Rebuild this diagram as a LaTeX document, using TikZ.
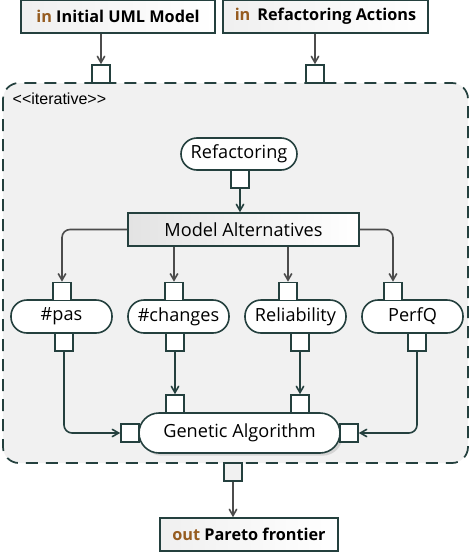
\documentclass[tikz,border=0pt]{standalone}
\usepackage{fontspec}
\setmainfont{Open Sans}
\newfontfamily\arialfont{Liberation Sans}
\usetikzlibrary{arrows,positioning,shadows}
\definecolor{edge}{RGB}{36,64,62}
\definecolor{kw}{RGB}{150,92,32}
\definecolor{regionbg}{RGB}{241,241,241}
\tikzset{
    portbox/.style={draw=edge,fill=white,minimum size=13.5pt,inner sep=0pt,line width=1.2pt},
    action/.style={draw=edge,fill=white,rounded corners=12pt,minimum width=75.75pt,minimum height=24.75pt,inner sep=0pt,line width=1.2pt,font=\fontsize{13.6}{15}\selectfont},
    param/.style={draw=edge,left color=gray!12,right color=white,minimum height=24.75pt,inner sep=0pt,line width=1.2pt,font=\bfseries\fontsize{12.2}{14}\selectfont},
    flow/.style={->,>=angle 60,draw=edge,line width=1.2pt,rounded corners=6pt}
}
\begin{document}
\begin{tikzpicture}[x=0.75pt,y=-0.75pt]
        \useasboundingbox (0,0) rectangle (474,557);
        \clip (0,0) rectangle (474,557);
        % iterative region
        \draw[edge,fill=regionbg,dash pattern=on 9pt off 6pt,line width=1.3pt,rounded corners=12pt] (3,83) rectangle (468,463);
        \node[anchor=west,font=\arialfont\fontsize{12}{14}\selectfont] (iter) at (8,99) {<<iterative>>};

        \node[param,minimum width=145.5pt] (in1) at (118,16.5) {\textcolor{kw}{in} Initial UML Model};
        \node[param,minimum width=153.75pt] (in2) at (325.5,16.5) {\textcolor{kw}{in}\, Refactoring Actions};
        \node[portbox] (p1) at (101,74) {};
        \node[portbox] (p2) at (315,74) {};
        \draw[flow,draw=black!70] (p1.north |- in1.south) -- (p1.north);
        \draw[flow,draw=black!70] (p2.north |- in2.south) -- (p2.north);

        \node[action,minimum width=87pt,minimum height=24pt] (refac) at (239,154) {Refactoring};
        \node[portbox] (refac-o) at (240,179) {};
        \node[draw=edge,left color=gray!22,right color=white,minimum width=173.25pt,minimum height=24.75pt,inner sep=0pt,line width=1.2pt,font=\fontsize{13.6}{15}\selectfont] (alt) at (243.5,229.5) {Model Alternatives};
        \draw[flow] (refac-o.south) -- (refac-o.south |- alt.north);

        \node[action] (pas) at (61.5,316.5) {\#pas};
        \node[action] (chg) at (178.5,316.5) {\#changes};
        \node[action] (rel) at (295.5,316.5) {Reliability};
        \node[action] (perf) at (412.5,316.5) {PerfQ};
        \node[portbox] (pas-i) at (62,291.5) {};
        \node[portbox] (chg-i) at (174,291.5) {};
        \node[portbox] (rel-i) at (288,291.5) {};
        \node[portbox] (perf-i) at (393,291.5) {};
        \node[portbox] (pas-o) at (64,342) {};
        \node[portbox] (chg-o) at (175,342) {};
        \node[portbox] (rel-o) at (300,342) {};
        \node[portbox] (perf-o) at (417,342) {};
        \draw[flow,draw=black!70] (alt.west) -| (pas-i.north);
        \draw[flow,draw=black!70] (chg-i.north |- alt.south) -- (chg-i.north);
        \draw[flow,draw=black!70] (rel-i.north |- alt.south) -- (rel-i.north);
        \draw[flow,draw=black!70] (alt.east) -| (perf-i.north);

        \node[action,minimum width=150.75pt,minimum height=30pt,rounded corners=15pt,drop shadow={shadow xshift=2pt,shadow yshift=-2pt,fill=gray!55}] (ga) at (239.5,433) {Genetic Algorithm};
        \node[portbox] (ga-w) at (130,433) {};
        \node[portbox] (ga-e) at (349,433) {};
        \node[portbox] (ga-n1) at (175,404) {};
        \node[portbox] (ga-n2) at (300,404) {};
        \draw[flow] (pas-o.south) |- (ga-w.west);
        \draw[flow] (chg-o.south) -- (ga-n1.north);
        \draw[flow] (rel-o.south) -- (ga-n2.north);
        \draw[flow] (perf-o.south) |- (ga-e.east);

        \node[portbox,fill=regionbg] (p3) at (233,472) {};
        \node[param,minimum width=133.5pt] (out) at (249,534.5) {\textcolor{kw}{out} Pareto frontier};
        \draw[flow,draw=black!70] (p3.south) -- (p3.south |- out.north);
\end{tikzpicture}
\end{document}
